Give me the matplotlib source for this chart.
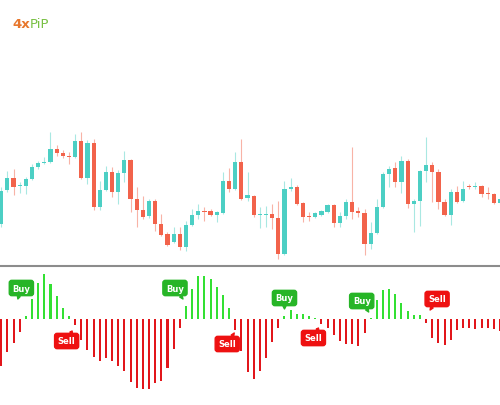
import matplotlib
matplotlib.use("Agg")
import matplotlib.pyplot as plt
import numpy as np

# ---------------- data ----------------
opens = [45, 79, 91, 83, 83, 90, 102, 106, 107, 120, 116, 113, 112, 128, 91, 126, 62, 79, 97, 77,
         96, 109, 70, 59, 53, 68, 45, 35, 27, 35, 22, 44, 54, 58, 58, 54, 56, 88, 80, 107,
         71, 73, 54, 54, 55, 51, 15, 80, 82, 66, 53, 52, 54, 57, 64, 46, 53, 67, 58, 56,
         25, 36, 62, 95, 101, 87, 108, 65, 68, 98, 104, 97, 67, 54, 77, 68, 83, 82, 83, 76,
         75, 66]
highs = [82, 98, 100, 87, 92, 105, 108, 112, 137, 124, 119, 117, 135, 137, 129, 130, 88, 103, 102, 99,
         118, 110, 82, 73, 70, 70, 55, 37, 42, 42, 48, 60, 65, 62, 60, 58, 97, 101, 117, 130,
         97, 74, 62, 63, 65, 68, 88, 91, 84, 67, 57, 57, 59, 65, 65, 57, 70, 122, 62, 60,
         47, 70, 97, 103, 107, 113, 110, 70, 99, 132, 107, 100, 70, 80, 83, 88, 85, 87, 84, 82,
         76, 72]
lows = [42, 77, 74, 76, 75, 89, 100, 105, 106, 113, 111, 105, 111, 90, 85, 59, 59, 78, 72, 65,
        87, 57, 42, 50, 51, 38, 33, 23, 26, 19, 18, 43, 50, 48, 53, 47, 55, 77, 79, 69,
        68, 52, 41, 42, 40, 10, 14, 78, 64, 47, 48, 51, 53, 56, 42, 42, 50, 50, 52, 14,
        20, 35, 61, 82, 82, 76, 61, 37, 43, 87, 67, 60, 53, 44, 66, 67, 80, 80, 72, 70,
        65, 65]
closes = [78, 91, 82, 84, 90, 102, 106, 107, 120, 116, 113, 112, 128, 91, 126, 62, 79, 97, 77, 96,
          109, 70, 59, 52, 68, 45, 34, 24, 35, 22, 44, 54, 58, 57, 54, 57, 88, 80, 107, 70,
          74, 54, 55, 55, 51, 15, 80, 82, 65, 52, 52, 56, 58, 64, 46, 53, 67, 57, 56, 25,
          36, 62, 95, 100, 87, 108, 65, 68, 98, 104, 97, 67, 54, 77, 67, 80, 82, 83, 75, 75,
          66, 70]
histogram = [-47, -33, -24, -13, 3, 20, 36, 45, 35, 23,
             11, 3, -6, -21, -31, -38, -42, -39, -42, -47,
             -52, -63, -69, -70, -70, -64, -62, -49, -30, -9,
             13, 30, 43, 43, 40, 32, 24, 11, -11, -32,
             -53, -60, -52, -39, -23, -9, 3, 9, 5, 5,
             3, 1, -5, -9, -16, -22, -25, -25, -27, -14,
             1, 19, 29, 30, 25, 16, 8, 4, 4, -4,
             -19, -24, -26, -21, -11, -9, -9, -10, -9, -9,
             -10, -12]
signal_labels = ["Buy", "Sell", "Buy", "Sell", "Buy", "Sell", "Buy", "Sell"]
logo_parts = ["4x", "PiP"]

# ---------------- style ----------------
BULL = "#4ccfc4"
BEAR = "#f2634b"
BULL_W = "#a9e8e2"
BEAR_W = "#f8b3a6"
HIST_UP = "#33e033"
HIST_DN = "#e2161b"
LBL_BUY = "#27b527"
LBL_SELL = "#ee1111"

W, H = 500, 406
fig = plt.figure(figsize=(W / 100, H / 100), dpi=100)
fig.patch.set_facecolor("white")

sep_y = 267
ax = fig.add_axes([0, (H - sep_y) / H, 1, sep_y / H])
axh = fig.add_axes([0, 0, 1, (H - sep_y - 1) / H])

n = len(opens)
x = np.arange(n)
xlim = (-0.2, 81.0)

# candles
for i in range(n):
    o, h, l, c = opens[i], highs[i], lows[i], closes[i]
    up = c >= o
    ax.vlines(i, l, h, color=BULL_W if up else BEAR_W, lw=0.8, zorder=1)
    lo, hi = min(o, c), max(o, c)
    ax.bar(i, max(hi - lo, 0.8), bottom=lo, width=0.68,
           color=BULL if up else BEAR, edgecolor="none", zorder=2)

ax.set_xlim(*xlim)
ax.set_ylim(3, 270)
ax.set_xticks([])
ax.set_yticks([])
for s in ["top", "left", "right"]:
    ax.spines[s].set_visible(False)
ax.spines["bottom"].set_color("#8c8c8c")
ax.spines["bottom"].set_linewidth(1.5)
ax.spines["bottom"].set_zorder(5)

# logo
t1 = fig.text(12 / W, 1 - 31 / H, logo_parts[0], fontsize=9.5, fontweight="bold",
              color="#e8782e", ha="left", va="bottom")
t2 = ax.annotate(logo_parts[1], xy=(1, 0), xycoords=t1, fontsize=9.5,
                 color="#78c043", ha="left", va="bottom")

# histogram
hist = np.array(histogram)
cols = [HIST_UP if v > 0 else HIST_DN for v in hist]
axh.bar(x, hist, width=0.33, color=cols, edgecolor="none")
axh.set_xlim(*xlim)
axh.set_ylim(-86, 52)
axh.axis("off")

# signal indices (sign changes in histogram)
sig_idx = [i for i in range(1, n) if np.sign(hist[i]) != np.sign(hist[i - 1])]

# label layout (pixel offsets of bubble centre and tail tip from the bar's zero point)
layout = [(-4.5, 31, -8, 20), (-8.5, -22, -3, -12), (-11, 31, -3, 20), (-8, -25, -1, -14),
          (0, 21, 0, 10), (-8, -19, -3, -9), (-9, 18, -2, 7), (11, 20, 4, 9)]
SP = 6.16
for k, (i, lab) in enumerate(zip(sig_idx, signal_labels)):
    dx, dy, tx, ty = layout[k]
    col = LBL_BUY if lab == "Buy" else LBL_SELL
    axh.annotate(lab, xy=(i + tx / SP, ty), xytext=(i + dx / SP, dy),
                 xycoords="data", textcoords="data",
                 fontsize=6, fontweight="bold", color="white",
                 ha="center", va="center",
                 bbox=dict(boxstyle="round,pad=0.38,rounding_size=0.3", fc=col, ec=col),
                 arrowprops=dict(arrowstyle="wedge,tail_width=0.35,shrink_factor=0.5",
                                 fc=col, ec=col, shrinkA=0, shrinkB=0))

fig.savefig("out.png", dpi=100, facecolor="white")
